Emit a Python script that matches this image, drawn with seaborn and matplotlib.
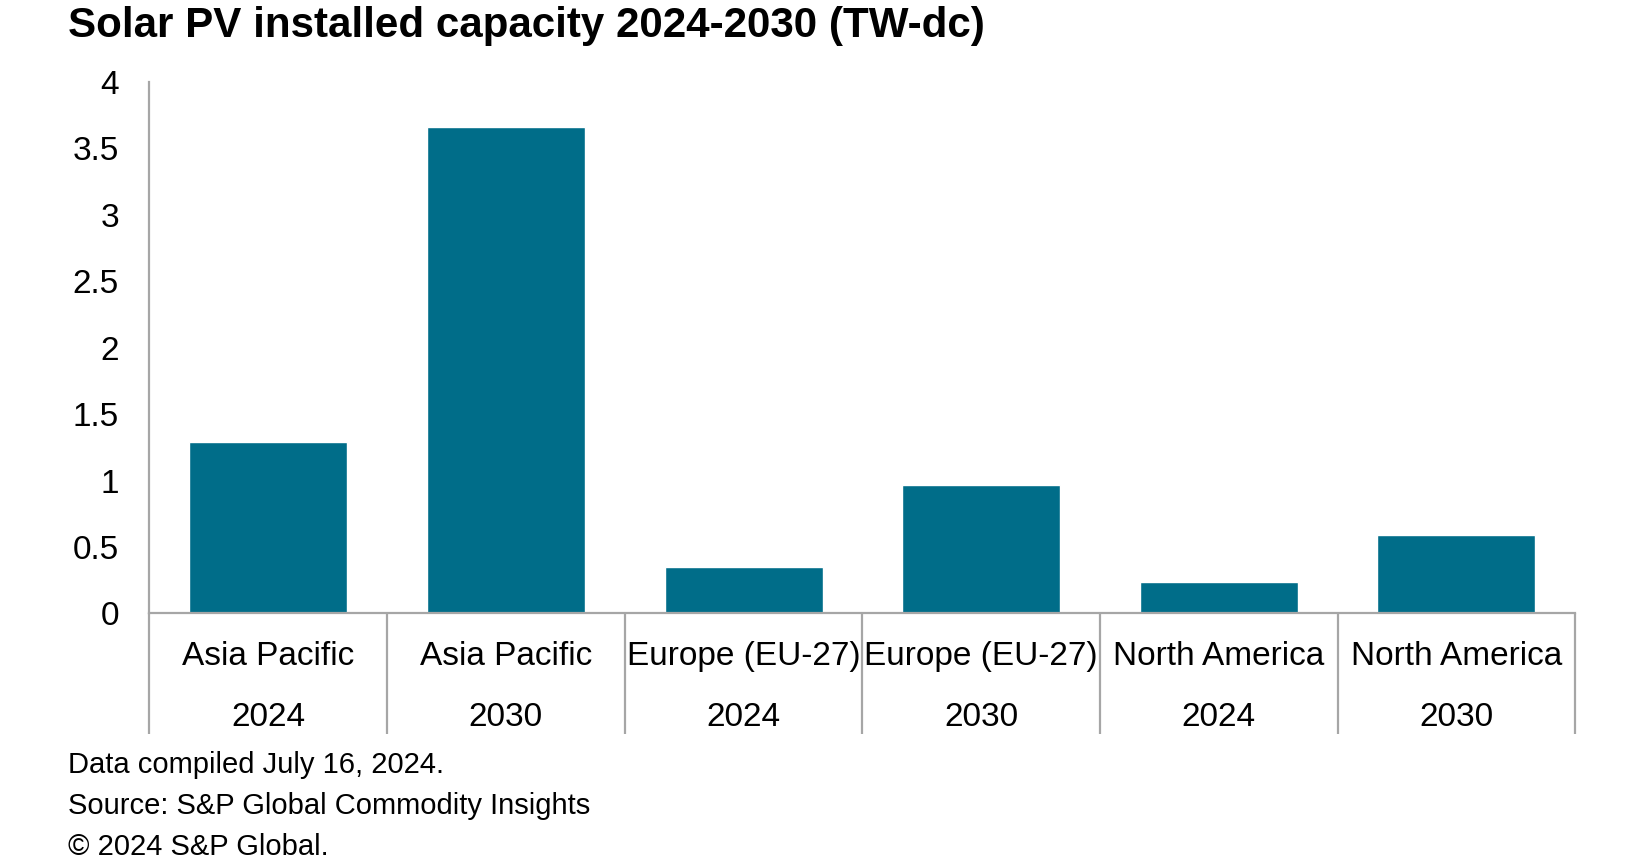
import matplotlib
matplotlib.use("Agg")
import matplotlib.pyplot as plt
import matplotlib.transforms as mtransforms
import seaborn as sns
import pandas as pd

# ---- data ----
regions = ["Asia Pacific", "Asia Pacific", "Europe (EU-27)", "Europe (EU-27)",
           "North America", "North America"]
years = ["2024", "2030", "2024", "2030", "2024", "2030"]
capacity_tw = [1.29, 3.66, 0.35, 0.97, 0.24, 0.59]
y_ticks = [0, 0.5, 1, 1.5, 2, 2.5, 3, 3.5, 4]
y_tick_labels = ["0", "0.5", "1", "1.5", "2", "2.5", "3", "3.5", "4"]
title = "Solar PV installed capacity 2024-2030 (TW-dc)"
footer_lines = ["Data compiled July 16, 2024.",
                "Source: S&P Global Commodity Insights",
                "\u00a9 2024 S&P Global."]

# ---- style ----
sns.set_theme(style="white")
plt.rcParams['font.family'] = ['Liberation Sans', 'DejaVu Sans']

BAR = "#006D89"
GRID = "#A6A6A6"

df = pd.DataFrame({"key": [f"{r} {y}" for r, y in zip(regions, years)],
                   "value": capacity_tw})

fig = plt.figure(figsize=(16.5, 8.64), dpi=100)
ax = fig.add_axes([0.0906, 0.29, 0.8641, 0.615])
sns.barplot(data=df, x="key", y="value", color=BAR, width=0.665,
            saturation=1, ax=ax)

ax.set_xlim(-0.5, len(regions) - 0.5)
ax.set_ylim(0, 4)
ax.set_yticks(y_ticks)
ax.set_yticklabels(y_tick_labels, fontsize=24, color="black")
ax.tick_params(axis="y", length=0, pad=22)
ax.set_xlabel("")
ax.set_ylabel("")

# category tick labels replaced by two-line text
ax.set_xticks(range(len(regions)))
ax.set_xticklabels([""] * len(regions))
ax.tick_params(axis="x", which="major", length=0)
ax.set_xticks([i - 0.5 for i in range(len(regions) + 1)], minor=True)
ax.tick_params(axis="x", which="minor", bottom=True, length=87, width=1.6,
               color=GRID, direction="out")

trans = mtransforms.blended_transform_factory(ax.transData, ax.transAxes)
for i, (r, y) in enumerate(zip(regions, years)):
    ax.text(i, -0.081, r, transform=trans, ha="center", va="center",
            fontsize=24, color="black")
    ax.text(i, -0.196, y, transform=trans, ha="center", va="center",
            fontsize=24, color="black")

for s in ["top", "right"]:
    ax.spines[s].set_visible(False)
for s in ["left", "bottom"]:
    ax.spines[s].set_color(GRID)
    ax.spines[s].set_linewidth(1.6)

fig.text(0.0415, 0.9696, title, fontsize=30.3, fontweight="bold",
         ha="left", va="center", color="black")
for yy, line in zip([0.1146, 0.067, 0.0197], footer_lines):
    fig.text(0.0415, yy, line, fontsize=21, ha="left", va="center",
             color="black")

fig.savefig("out.png", dpi=100)
